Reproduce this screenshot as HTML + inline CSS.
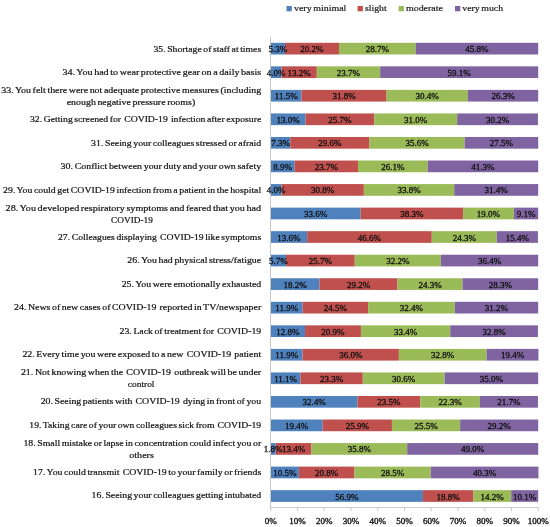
<!DOCTYPE html><html><head><meta charset="utf-8"><style>html,body{margin:0;padding:0;background:#fff;}svg{display:block}text{white-space:pre}</style></head><body>
<svg width="550" height="527" viewBox="0 0 550 527">
<rect x="0" y="0" width="550" height="527" fill="#fff"/>
<rect x="270.80" y="42.80" width="14.17" height="11.7" fill="#4f81bd"/>
<rect x="284.97" y="42.80" width="54.01" height="11.7" fill="#c0504d"/>
<rect x="338.99" y="42.80" width="76.74" height="11.7" fill="#9bbb59"/>
<rect x="415.73" y="42.80" width="122.47" height="11.7" fill="#8064a2"/>
<rect x="270.80" y="66.34" width="10.70" height="11.7" fill="#4f81bd"/>
<rect x="281.50" y="66.34" width="35.30" height="11.7" fill="#c0504d"/>
<rect x="316.79" y="66.34" width="63.37" height="11.7" fill="#9bbb59"/>
<rect x="380.17" y="66.34" width="158.03" height="11.7" fill="#8064a2"/>
<rect x="270.80" y="89.89" width="30.75" height="11.7" fill="#4f81bd"/>
<rect x="301.55" y="89.89" width="85.03" height="11.7" fill="#c0504d"/>
<rect x="386.58" y="89.89" width="81.29" height="11.7" fill="#9bbb59"/>
<rect x="467.87" y="89.89" width="70.33" height="11.7" fill="#8064a2"/>
<rect x="270.80" y="113.44" width="34.76" height="11.7" fill="#4f81bd"/>
<rect x="305.56" y="113.44" width="68.72" height="11.7" fill="#c0504d"/>
<rect x="374.28" y="113.44" width="82.89" height="11.7" fill="#9bbb59"/>
<rect x="457.18" y="113.44" width="80.75" height="11.7" fill="#8064a2"/>
<rect x="270.80" y="136.98" width="19.52" height="11.7" fill="#4f81bd"/>
<rect x="290.32" y="136.98" width="79.15" height="11.7" fill="#c0504d"/>
<rect x="369.47" y="136.98" width="95.19" height="11.7" fill="#9bbb59"/>
<rect x="464.66" y="136.98" width="73.53" height="11.7" fill="#8064a2"/>
<rect x="270.80" y="160.53" width="23.80" height="11.7" fill="#4f81bd"/>
<rect x="294.60" y="160.53" width="63.37" height="11.7" fill="#c0504d"/>
<rect x="357.97" y="160.53" width="69.79" height="11.7" fill="#9bbb59"/>
<rect x="427.76" y="160.53" width="110.44" height="11.7" fill="#8064a2"/>
<rect x="270.80" y="184.07" width="10.70" height="11.7" fill="#4f81bd"/>
<rect x="281.50" y="184.07" width="82.36" height="11.7" fill="#c0504d"/>
<rect x="363.86" y="184.07" width="90.38" height="11.7" fill="#9bbb59"/>
<rect x="454.24" y="184.07" width="83.96" height="11.7" fill="#8064a2"/>
<rect x="270.80" y="207.62" width="89.85" height="11.7" fill="#4f81bd"/>
<rect x="360.65" y="207.62" width="102.41" height="11.7" fill="#c0504d"/>
<rect x="463.06" y="207.62" width="50.81" height="11.7" fill="#9bbb59"/>
<rect x="513.87" y="207.62" width="24.33" height="11.7" fill="#8064a2"/>
<rect x="270.80" y="231.16" width="36.37" height="11.7" fill="#4f81bd"/>
<rect x="307.17" y="231.16" width="124.61" height="11.7" fill="#c0504d"/>
<rect x="431.77" y="231.16" width="64.98" height="11.7" fill="#9bbb59"/>
<rect x="496.75" y="231.16" width="41.18" height="11.7" fill="#8064a2"/>
<rect x="270.80" y="254.71" width="15.24" height="11.7" fill="#4f81bd"/>
<rect x="286.04" y="254.71" width="68.72" height="11.7" fill="#c0504d"/>
<rect x="354.76" y="254.71" width="86.10" height="11.7" fill="#9bbb59"/>
<rect x="440.87" y="254.71" width="97.33" height="11.7" fill="#8064a2"/>
<rect x="270.80" y="278.25" width="48.67" height="11.7" fill="#4f81bd"/>
<rect x="319.47" y="278.25" width="78.08" height="11.7" fill="#c0504d"/>
<rect x="397.55" y="278.25" width="64.98" height="11.7" fill="#9bbb59"/>
<rect x="462.53" y="278.25" width="75.67" height="11.7" fill="#8064a2"/>
<rect x="270.80" y="301.80" width="31.82" height="11.7" fill="#4f81bd"/>
<rect x="302.62" y="301.80" width="65.51" height="11.7" fill="#c0504d"/>
<rect x="368.13" y="301.80" width="86.64" height="11.7" fill="#9bbb59"/>
<rect x="454.77" y="301.80" width="83.43" height="11.7" fill="#8064a2"/>
<rect x="270.80" y="325.34" width="34.23" height="11.7" fill="#4f81bd"/>
<rect x="305.03" y="325.34" width="55.89" height="11.7" fill="#c0504d"/>
<rect x="360.91" y="325.34" width="89.31" height="11.7" fill="#9bbb59"/>
<rect x="450.23" y="325.34" width="87.71" height="11.7" fill="#8064a2"/>
<rect x="270.80" y="348.89" width="31.82" height="11.7" fill="#4f81bd"/>
<rect x="302.62" y="348.89" width="96.26" height="11.7" fill="#c0504d"/>
<rect x="398.88" y="348.89" width="87.71" height="11.7" fill="#9bbb59"/>
<rect x="486.59" y="348.89" width="51.88" height="11.7" fill="#8064a2"/>
<rect x="270.80" y="372.43" width="29.68" height="11.7" fill="#4f81bd"/>
<rect x="300.48" y="372.43" width="62.30" height="11.7" fill="#c0504d"/>
<rect x="362.79" y="372.43" width="81.82" height="11.7" fill="#9bbb59"/>
<rect x="444.61" y="372.43" width="93.59" height="11.7" fill="#8064a2"/>
<rect x="270.80" y="395.98" width="86.64" height="11.7" fill="#4f81bd"/>
<rect x="357.44" y="395.98" width="62.84" height="11.7" fill="#c0504d"/>
<rect x="420.28" y="395.98" width="59.63" height="11.7" fill="#9bbb59"/>
<rect x="479.91" y="395.98" width="58.03" height="11.7" fill="#8064a2"/>
<rect x="270.80" y="419.52" width="51.88" height="11.7" fill="#4f81bd"/>
<rect x="322.68" y="419.52" width="69.26" height="11.7" fill="#c0504d"/>
<rect x="391.93" y="419.52" width="68.19" height="11.7" fill="#9bbb59"/>
<rect x="460.12" y="419.52" width="78.08" height="11.7" fill="#8064a2"/>
<rect x="270.80" y="443.07" width="4.81" height="11.7" fill="#4f81bd"/>
<rect x="275.61" y="443.07" width="35.83" height="11.7" fill="#c0504d"/>
<rect x="311.44" y="443.07" width="95.73" height="11.7" fill="#9bbb59"/>
<rect x="407.17" y="443.07" width="131.03" height="11.7" fill="#8064a2"/>
<rect x="270.80" y="466.61" width="28.08" height="11.7" fill="#4f81bd"/>
<rect x="298.88" y="466.61" width="55.62" height="11.7" fill="#c0504d"/>
<rect x="354.50" y="466.61" width="76.21" height="11.7" fill="#9bbb59"/>
<rect x="430.71" y="466.61" width="107.76" height="11.7" fill="#8064a2"/>
<rect x="270.80" y="490.16" width="152.15" height="11.7" fill="#4f81bd"/>
<rect x="422.95" y="490.16" width="50.27" height="11.7" fill="#c0504d"/>
<rect x="473.22" y="490.16" width="37.97" height="11.7" fill="#9bbb59"/>
<rect x="511.19" y="490.16" width="27.01" height="11.7" fill="#8064a2"/>
<g stroke="#c8c8c8" stroke-width="1" fill="none">
<line x1="270.5" y1="36.7" x2="270.5" y2="508.1"/>
<line x1="270" y1="507.6" x2="538.70" y2="507.6"/>
<line x1="270.80" y1="507.6" x2="270.80" y2="511.1"/>
<line x1="297.54" y1="507.6" x2="297.54" y2="511.1"/>
<line x1="324.28" y1="507.6" x2="324.28" y2="511.1"/>
<line x1="351.02" y1="507.6" x2="351.02" y2="511.1"/>
<line x1="377.76" y1="507.6" x2="377.76" y2="511.1"/>
<line x1="404.50" y1="507.6" x2="404.50" y2="511.1"/>
<line x1="431.24" y1="507.6" x2="431.24" y2="511.1"/>
<line x1="457.98" y1="507.6" x2="457.98" y2="511.1"/>
<line x1="484.72" y1="507.6" x2="484.72" y2="511.1"/>
<line x1="511.46" y1="507.6" x2="511.46" y2="511.1"/>
<line x1="538.20" y1="507.6" x2="538.20" y2="511.1"/>
</g>
<g font-family="Liberation Serif, serif" font-size="9.0" fill="#111111" stroke="#111111" stroke-width="0.3" text-anchor="middle">
<text x="277.89" y="52.15">5.3%</text>
<text x="311.98" y="52.15">20.2%</text>
<text x="377.36" y="52.15">28.7%</text>
<text x="476.97" y="52.15">45.8%</text>
<text x="276.15" y="75.69">4.0%</text>
<text x="299.14" y="75.69">13.2%</text>
<text x="348.48" y="75.69">23.7%</text>
<text x="459.18" y="75.69">59.1%</text>
<text x="286.18" y="99.24">11.5%</text>
<text x="344.07" y="99.24">31.8%</text>
<text x="427.23" y="99.24">30.4%</text>
<text x="503.04" y="99.24">26.3%</text>
<text x="288.18" y="122.78">13.0%</text>
<text x="339.92" y="122.78">25.7%</text>
<text x="415.73" y="122.78">31.0%</text>
<text x="497.56" y="122.78">30.2%</text>
<text x="280.56" y="146.33">7.3%</text>
<text x="329.90" y="146.33">29.6%</text>
<text x="417.07" y="146.33">35.6%</text>
<text x="501.43" y="146.33">27.5%</text>
<text x="282.70" y="169.88">8.9%</text>
<text x="326.29" y="169.88">23.7%</text>
<text x="392.87" y="169.88">26.1%</text>
<text x="482.98" y="169.88">41.3%</text>
<text x="276.15" y="193.42">4.0%</text>
<text x="322.68" y="193.42">30.8%</text>
<text x="409.05" y="193.42">33.8%</text>
<text x="496.22" y="193.42">31.4%</text>
<text x="315.72" y="216.97">33.6%</text>
<text x="411.85" y="216.97">38.3%</text>
<text x="488.46" y="216.97">19.0%</text>
<text x="526.03" y="216.97">9.1%</text>
<text x="288.98" y="240.51">13.6%</text>
<text x="369.47" y="240.51">46.6%</text>
<text x="464.26" y="240.51">24.3%</text>
<text x="517.34" y="240.51">15.4%</text>
<text x="278.42" y="264.06">5.7%</text>
<text x="320.40" y="264.06">25.7%</text>
<text x="397.81" y="264.06">32.2%</text>
<text x="489.53" y="264.06">36.4%</text>
<text x="295.13" y="287.60">18.2%</text>
<text x="358.51" y="287.60">29.2%</text>
<text x="430.04" y="287.60">24.3%</text>
<text x="500.36" y="287.60">28.3%</text>
<text x="286.71" y="311.15">11.9%</text>
<text x="335.38" y="311.15">24.5%</text>
<text x="411.45" y="311.15">32.4%</text>
<text x="496.49" y="311.15">31.2%</text>
<text x="287.91" y="334.69">12.8%</text>
<text x="332.97" y="334.69">20.9%</text>
<text x="405.57" y="334.69">33.4%</text>
<text x="494.08" y="334.69">32.8%</text>
<text x="286.71" y="358.24">11.9%</text>
<text x="350.75" y="358.24">36.0%</text>
<text x="442.74" y="358.24">32.8%</text>
<text x="512.53" y="358.24">19.4%</text>
<text x="285.64" y="381.78">11.1%</text>
<text x="331.63" y="381.78">23.3%</text>
<text x="403.70" y="381.78">30.6%</text>
<text x="491.41" y="381.78">35.0%</text>
<text x="314.12" y="405.33">32.4%</text>
<text x="388.86" y="405.33">23.5%</text>
<text x="450.09" y="405.33">22.3%</text>
<text x="508.92" y="405.33">21.7%</text>
<text x="296.74" y="428.87">19.4%</text>
<text x="357.30" y="428.87">25.9%</text>
<text x="426.03" y="428.87">25.5%</text>
<text x="499.16" y="428.87">29.2%</text>
<text x="273.21" y="452.42">1.8%</text>
<text x="293.53" y="452.42">13.4%</text>
<text x="359.31" y="452.42">35.8%</text>
<text x="472.69" y="452.42">49.0%</text>
<text x="284.84" y="475.96">10.5%</text>
<text x="326.69" y="475.96">20.8%</text>
<text x="392.60" y="475.96">28.5%</text>
<text x="484.59" y="475.96">40.3%</text>
<text x="346.88" y="499.51">56.9%</text>
<text x="448.09" y="499.51">18.8%</text>
<text x="492.21" y="499.51">14.2%</text>
<text x="524.70" y="499.51">10.1%</text>
</g>
<g font-family="Liberation Serif, serif" font-size="9.0" fill="#111111" stroke="#111111" stroke-width="0.35" text-anchor="middle">
<text x="270.80" y="523.6">0%</text>
<text x="297.54" y="523.6">10%</text>
<text x="324.28" y="523.6">20%</text>
<text x="351.02" y="523.6">30%</text>
<text x="377.76" y="523.6">40%</text>
<text x="404.50" y="523.6">50%</text>
<text x="431.24" y="523.6">60%</text>
<text x="457.98" y="523.6">70%</text>
<text x="484.72" y="523.6">80%</text>
<text x="511.46" y="523.6">90%</text>
<text x="538.20" y="523.6">100%</text>
</g>
<g font-family="Liberation Serif, serif" font-size="9.0" fill="#111111" stroke="#111111" stroke-width="0.2" word-spacing="-0.8">
<text x="153.50" y="51.70" textLength="107.70" lengthAdjust="spacingAndGlyphs">35. Shortage of staff at times</text>
<text x="62.40" y="75.19" textLength="198.80" lengthAdjust="spacingAndGlyphs">34. You had to wear protective gear on a daily basis</text>
<text x="1.30" y="93.33" textLength="259.90" lengthAdjust="spacingAndGlyphs">33. You felt there were not adequate protective measures (including</text>
<text x="66.70" y="105.23" textLength="128.50" lengthAdjust="spacingAndGlyphs">enough negative pressure rooms)</text>
<text x="30.00" y="122.17" textLength="231.20" lengthAdjust="spacingAndGlyphs">32. Getting screened for  COVID-19  infection after exposure</text>
<text x="91.10" y="145.66" textLength="170.10" lengthAdjust="spacingAndGlyphs">31. Seeing your colleagues stressed or afraid</text>
<text x="60.60" y="169.15" textLength="200.60" lengthAdjust="spacingAndGlyphs">30. Conflict between your duty and your own safety</text>
<text x="3.10" y="192.64" textLength="258.10" lengthAdjust="spacingAndGlyphs">29. You could get COVID-19 infection from a patient in the hospital</text>
<text x="5.60" y="210.78" textLength="255.60" lengthAdjust="spacingAndGlyphs">28. You developed respiratory symptoms and feared that you had</text>
<text x="111.10" y="222.68" textLength="41.70" lengthAdjust="spacingAndGlyphs">COVID-19</text>
<text x="58.00" y="239.62" textLength="203.20" lengthAdjust="spacingAndGlyphs">27. Colleagues displaying  COVID-19 like symptoms</text>
<text x="127.30" y="263.11" textLength="133.90" lengthAdjust="spacingAndGlyphs">26. You had physical stress/fatigue</text>
<text x="121.70" y="286.60" textLength="139.50" lengthAdjust="spacingAndGlyphs">25. You were emotionally exhausted</text>
<text x="14.00" y="310.09" textLength="247.20" lengthAdjust="spacingAndGlyphs">24. News of new cases of COVID-19  reported in TV/newspaper</text>
<text x="119.60" y="333.58" textLength="141.60" lengthAdjust="spacingAndGlyphs">23. Lack of treatment for  COVID-19</text>
<text x="22.40" y="357.07" textLength="238.80" lengthAdjust="spacingAndGlyphs">22. Every time you were exposed to a new  COVID-19  patient</text>
<text x="20.90" y="375.21" textLength="240.30" lengthAdjust="spacingAndGlyphs">21. Not knowing when the  COVID-19  outbreak will be under</text>
<text x="127.80" y="387.11" textLength="26.70" lengthAdjust="spacingAndGlyphs">control</text>
<text x="40.70" y="404.05" textLength="220.50" lengthAdjust="spacingAndGlyphs">20. Seeing patients with  COVID-19  dying in front of you</text>
<text x="29.30" y="427.54" textLength="231.90" lengthAdjust="spacingAndGlyphs">19. Taking care of your own colleagues sick from  COVID-19</text>
<text x="23.40" y="445.68" textLength="237.80" lengthAdjust="spacingAndGlyphs">18. Small mistake or lapse in concentration could infect you or</text>
<text x="129.30" y="457.58" textLength="24.60" lengthAdjust="spacingAndGlyphs">others</text>
<text x="33.10" y="474.52" textLength="228.10" lengthAdjust="spacingAndGlyphs">17. You could transmit  COVID-19 to your family or friends</text>
<text x="91.60" y="498.01" textLength="169.60" lengthAdjust="spacingAndGlyphs">16. Seeing your colleagues getting intubated</text>
</g>
<rect x="286.5" y="6" width="5.3" height="5.3" fill="#4f81bd"/>
<text x="294.0" y="11.3" font-family="Liberation Serif, serif" font-size="9.0" fill="#1a1a1a" stroke="#1a1a1a" stroke-width="0.2" word-spacing="-0.8" textLength="52.3" lengthAdjust="spacingAndGlyphs">very minimal</text>
<rect x="357.6" y="6" width="5.3" height="5.3" fill="#c0504d"/>
<text x="364.9" y="11.3" font-family="Liberation Serif, serif" font-size="9.0" fill="#1a1a1a" stroke="#1a1a1a" stroke-width="0.2" word-spacing="-0.8" textLength="21.8" lengthAdjust="spacingAndGlyphs">slight</text>
<rect x="398.6" y="6" width="5.3" height="5.3" fill="#9bbb59"/>
<text x="405.9" y="11.3" font-family="Liberation Serif, serif" font-size="9.0" fill="#1a1a1a" stroke="#1a1a1a" stroke-width="0.2" word-spacing="-0.8" textLength="37.1" lengthAdjust="spacingAndGlyphs">moderate</text>
<rect x="455.0" y="6" width="5.3" height="5.3" fill="#8064a2"/>
<text x="462.3" y="11.3" font-family="Liberation Serif, serif" font-size="9.0" fill="#1a1a1a" stroke="#1a1a1a" stroke-width="0.2" word-spacing="-0.8" textLength="40.8" lengthAdjust="spacingAndGlyphs">very much</text>
</svg></body></html>
